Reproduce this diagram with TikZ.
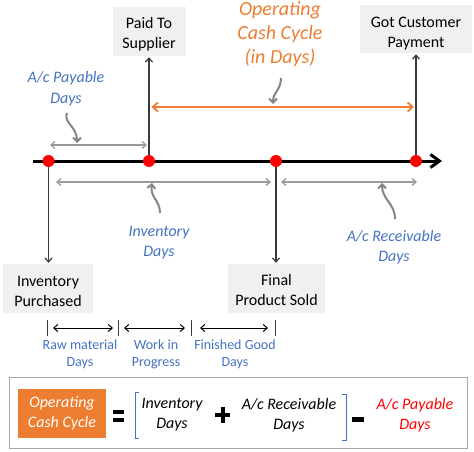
\documentclass[tikz,border=0pt]{standalone}
\usepackage{fontspec}
\setmainfont{Carlito}
\usetikzlibrary{arrows.meta}
\definecolor{orng}{HTML}{ED7D31}
\definecolor{blu}{HTML}{4472C4}
\definecolor{ptr}{HTML}{858585}
\definecolor{spn}{HTML}{9A9A9A}
\definecolor{boxg}{HTML}{F0F0F0}
\definecolor{vln}{HTML}{3A3A3A}
\begin{document}
\begin{tikzpicture}[x=1pt,y=-1pt,
 boxs/.style={fill=boxg, inner sep=0pt},
 lbl/.style={align=center, inner sep=0pt, font=\fontsize{16}{20}\selectfont},
 reddot/.style={circle, fill=red, inner sep=0pt, minimum size=12pt},
 vconn/.style={draw=vln, line width=1.2pt, -{Straight Barb[length=4pt,width=7pt]}, shorten >=1pt},
 span/.style={draw=spn, line width=1.3pt, {Straight Barb[length=4pt,width=7pt]}-{Straight Barb[length=4pt,width=7pt]}},
 pointer/.style={draw=ptr, line width=2pt, -{Straight Barb[length=4pt,width=8pt]}},
 bluetxt/.style={text=blu, align=center, inner sep=0pt, font=\itshape\fontsize{16}{20.5}\selectfont},
 steptxt/.style={text=blu, align=center, inner sep=0pt, font=\fontsize{14}{17}\selectfont},
 fml/.style={align=center, inner sep=0pt, font=\itshape\fontsize{16}{20}\selectfont},
 tickln/.style={draw=vln, line width=1pt},
 sub/.style={draw=black, line width=1pt, {Straight Barb[length=4pt,width=7pt]}-{Straight Barb[length=4pt,width=7pt]}}
]
\useasboundingbox (0,0) rectangle (474,452);

% boxes
\node[boxs, minimum width=73pt, minimum height=49pt] (paidbox) at (149,31.5) {};
\node[lbl] (paid) at (149,34) {Paid To\\Supplier};
\node[boxs, minimum width=112pt, minimum height=48pt] (gotbox) at (416,29) {};
\node[lbl] (got) at (416,34) {Got Customer\\Payment};
\node[boxs, minimum width=90pt, minimum height=49pt] (purchbox) at (48,288.5) {};
\node[lbl] (purch) at (48,291) {Inventory\\Purchased};
\node[boxs, minimum width=97pt, minimum height=49pt] (soldbox) at (276.5,288.5) {};
\node[lbl] (sold) at (276.5,290.5) {Final\\Product Sold};

% timeline
\coordinate (tlA) at (33,161);
\coordinate (tlB) at (442,161);
\draw[line width=3pt, -{Straight Barb[length=9pt,width=13pt]}] (tlA) -- (tlB);

% connectors from timeline
\node[reddot] (d1) at (48.5,161) {};
\node[reddot] (d2) at (149,161) {};
\node[reddot] (d3) at (276,161) {};
\node[reddot] (d4) at (416,161) {};
\draw[vconn] (d2) -- (d2 |- paidbox.south);
\draw[vconn] (d4) -- (d4 |- gotbox.south);
\draw[vconn] (d1) -- (d1 |- purchbox.north);
\draw[vconn] (d3) -- (d3 |- soldbox.north);

% operating cycle
\node[text=orng, align=center, inner sep=0pt, font=\itshape\fontsize{20}{24}\selectfont] (occ) at (280,34.5) {Operating\\Cash Cycle\\(in Days)};
\coordinate (oL) at (151.5,107);
\coordinate (oR) at (414,107);
\draw[draw=orng, line width=1.8pt, {Straight Barb[length=5pt,width=9pt]}-{Straight Barb[length=5pt,width=9pt]}] (oL) -- (oR);
\coordinate (occP) at (281,78);
\coordinate (occT) at (273,104);
\draw[pointer] (occP) .. controls (281,90) and (273,92) .. (occT);

% payable
\node[bluetxt] (apd) at (66,88.5) {A/c Payable\\Days};
\coordinate (apL) at (50,145);
\coordinate (apR) at (147,145);
\draw[span] (apL) -- (apR);
\coordinate (apP) at (67,113);
\coordinate (apT) at (77,143);
\draw[pointer] (apP) .. controls (63,123) and (77,126) .. (apT);

% inventory days
\coordinate (ivL) at (56,182);
\coordinate (ivR) at (271,182);
\draw[span] (ivL) -- (ivR);
\node[bluetxt] (invd) at (159,242.5) {Inventory\\Days};
\coordinate (ivP) at (160,213);
\coordinate (ivT) at (152,183);
\draw[pointer] (ivP) .. controls (160,200) and (150,198) .. (ivT);

% receivable days
\coordinate (rcL) at (281,182);
\coordinate (rcR) at (417,182);
\draw[span] (rcL) -- (rcR);
\node[bluetxt] (recd) at (394,247) {A/c Receivable\\Days};
\coordinate (rcP) at (395,219);
\coordinate (rcT) at (382,183);
\draw[pointer] (rcP) .. controls (395,203) and (382,200) .. (rcT);

% sub periods
\foreach \x/\n in {47.5/ta,118.5/tb,191.5/tc,275.5/td} {
  \coordinate (\n1) at (\x,320);
  \coordinate (\n2) at (\x,336);
  \draw[tickln] (\n1) -- (\n2);
}
\coordinate (s1a) at (53,328); \coordinate (s1b) at (113,328);
\coordinate (s2a) at (124,328); \coordinate (s2b) at (185,328);
\coordinate (s3a) at (200,328); \coordinate (s3b) at (268,328);
\draw[sub] (s1a) -- (s1b);
\draw[sub] (s2a) -- (s2b);
\draw[sub] (s3a) -- (s3b);
\node[steptxt] (raw) at (80,354) {Raw material\\Days};
\node[steptxt] (wip) at (156,354) {Work in\\Progress};
\node[steptxt] (fgd) at (235,354) {Finished Good\\Days};

% formula
\draw[draw=gray!70, line width=1pt] (9,377) rectangle (467,448);
\node[fill=orng, text=white, minimum width=88pt, minimum height=49pt, inner sep=0pt, align=center, font=\itshape\fontsize{16}{20}\selectfont] (ocb) at (62,413.5) {Operating\\Cash Cycle};
\fill (113,410) rectangle (124,414);
\fill (113,418) rectangle (124,422);
\draw[blu, line width=0.8pt] (139,392) -- (135,392) -- (135,438) -- (139,438);
\node[fml] (fi) at (172,414.5) {Inventory\\Days};
\fill (215,413) rectangle (230,417);
\fill (220.5,407) rectangle (224.5,423);
\node[fml] (fr) at (289,415.5) {A/c Receivable\\Days};
\draw[blu, line width=0.8pt] (342,394) -- (346,394) -- (346,440) -- (342,440);
\fill (352,417) rectangle (364,422);
\node[fml, text=red] (fp) at (415,415.5) {A/c Payable\\Days};
\end{tikzpicture}
\end{document}
